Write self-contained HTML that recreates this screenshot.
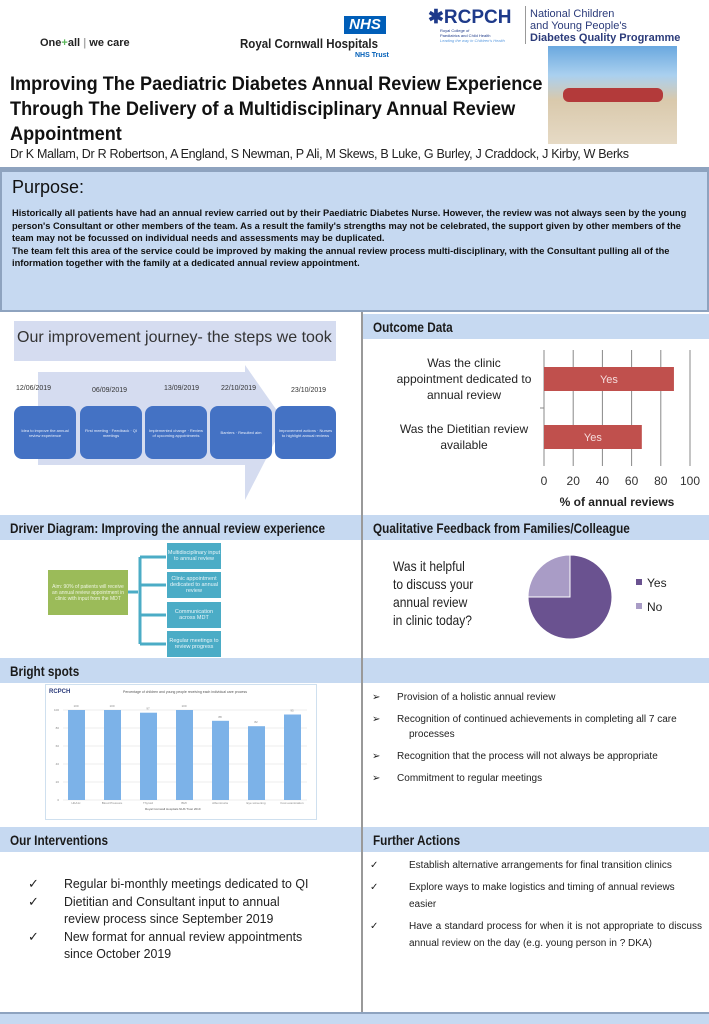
<!DOCTYPE html>
<html><head><meta charset="utf-8"><style>
*{margin:0;padding:0;box-sizing:border-box}
body{width:709px;height:1024px;position:relative;background:#fff;font-family:"Liberation Sans",sans-serif;overflow:hidden;color:#222}
.a{position:absolute}
.hdr{position:absolute;background:#c6d9f1;height:25px;font-weight:bold;font-size:14px;padding:5px 0 0 10px;color:#1a1a1a;white-space:nowrap;overflow:hidden}
.hdr span{display:inline-block;transform:scaleX(0.84);transform-origin:left}
.cn{display:inline-block;transform:scaleX(0.86);transform-origin:left;white-space:nowrap}
.bx{position:absolute;background:#4472c4;border-radius:8px;color:#e8eefa;font-size:4px;text-align:center;display:flex;align-items:center;justify-content:center;padding:3px}
.dt{position:absolute;font-size:7px;color:#333}
.db{position:absolute;background:#4bacc6;color:#e9f5f9;font-size:5.5px;text-align:center;display:flex;align-items:center;justify-content:center;width:54px;height:26px}
.li{position:relative;white-space:nowrap}
.li>i{position:absolute;left:0;top:0;font-style:normal}
</style></head><body>
<div class="a" style="left:40px;top:37px;font-size:11px;font-weight:bold">One<span style="color:#5ab65a">+</span>all <span style="color:#aaa">|</span> we care</div>
<div class="a" style="left:344px;top:16px;width:42px;height:18px;background:#005eb8;color:#fff;font-weight:bold;font-style:italic;font-size:15px;text-align:center;line-height:18px">NHS</div>
<div class="a" style="left:240px;top:37px;font-size:12.5px;font-weight:bold;color:#222"><span class="cn" style="transform:scaleX(0.92)">Royal Cornwall Hospitals</span></div>
<div class="a" style="left:355px;top:52px;font-size:7px;font-weight:bold;color:#005eb8">NHS Trust</div>
<div class="a" style="left:428px;top:6px;font-size:19px;font-weight:bold;color:#1e3a8a">✱RCPCH</div>
<div class="a" style="left:440px;top:28px;font-size:4px;color:#1e3a8a;line-height:5px">Royal College of<br>Paediatrics and Child Health<br><i style="color:#5a9be0">Leading the way in Children's Health</i></div>
<div class="a" style="left:525px;top:6px;width:1px;height:38px;background:#999"></div>
<div class="a" style="left:530px;top:8px;font-size:11px;line-height:12px;color:#2b3b7a">National Children<br>and Young People's<br><b>Diabetes Quality Programme</b></div>
<div class="a" style="left:548px;top:46px;width:129px;height:98px;background:linear-gradient(#6aa8df 0,#aad0ef 30%,#d9c9ac 55%,#e6dac5 100%)"><div style="position:absolute;left:15px;top:42px;width:100px;height:14px;background:#b33a3a;border-radius:6px"></div></div>
<div class="a" style="left:10px;top:72px;font-size:19.5px;font-weight:bold;line-height:25px;color:#111"><span class="cn" style="transform:scaleX(0.93)">Improving The Paediatric Diabetes Annual Review Experience<br>Through The Delivery of a Multidisciplinary Annual Review<br>Appointment</span></div>
<div class="a" style="left:10px;top:147px;font-size:12.5px;letter-spacing:-0.3px;color:#222">Dr K Mallam, Dr R Robertson, A England, S Newman, P Ali, M Skews, B Luke, G Burley, J Craddock, J Kirby, W Berks</div>
<div class="a" style="left:0;top:167px;width:709px;height:3px;background:#8ea3bf"></div>
<div class="a" style="left:0;top:170px;width:709px;height:142px;background:#c6d9f1;border:2px solid #8ea3bf;padding:5px 10px">
<div style="font-size:18px;color:#111;margin-bottom:9px">Purpose:</div>
<div style="font-size:9.3px;font-weight:bold;line-height:12.5px;color:#111">Historically all patients have had an annual review carried out by their Paediatric Diabetes Nurse. However, the review was not always seen by the young person's Consultant or other members of the team. As a result the family's strengths may not be celebrated, the support given by other members of the team may not be focussed on individual needs and assessments may be duplicated.<br>The team felt this area of the service could be improved by making the annual review process multi-disciplinary, with the Consultant pulling all of the information together with the family at a dedicated annual review appointment.</div></div>
<div class="a" style="left:361px;top:312px;width:2px;height:700px;background:#999"></div>
<!-- Journey -->
<div class="a" style="left:14px;top:321px;width:322px;height:40px;background:#d5dcf0;font-size:16px;color:#333;padding:8px 0 0 3px">Our improvement journey- the steps we took</div>
<svg class="a" style="left:0;top:310px" width="360" height="200"><polygon points="38,62 245,62 245,55 285,112 245,190 245,155 38,155" fill="#d5dcf0"/></svg>
<div class="dt" style="left:16px;top:385px">12/06/2019</div><div class="dt" style="left:92px;top:387px">06/09/2019</div><div class="dt" style="left:164px;top:385px">13/09/2019</div><div class="dt" style="left:221px;top:385px">22/10/2019</div><div class="dt" style="left:291px;top:387px">23/10/2019</div>
<div class="bx" style="left:14px;top:406px;width:62px;height:53px">Idea to improve the annual review experience</div>
<div class="bx" style="left:80px;top:406px;width:62px;height:53px">First meeting · Feedback · QI meetings</div>
<div class="bx" style="left:145px;top:406px;width:62px;height:53px">Implemented change · Review of upcoming appointments</div>
<div class="bx" style="left:210px;top:406px;width:62px;height:53px">Barriers · Resulted aim</div>
<div class="bx" style="left:275px;top:406px;width:61px;height:53px">Improvement actions · Nurses to highlight annual reviews</div>
<!-- Outcome -->
<div class="hdr" style="left:363px;top:314px;width:346px"><span>Outcome Data</span></div>
<svg class="a" id="oc" style="left:363px;top:340px" width="346" height="175"></svg>
<!-- Driver -->
<div class="hdr" style="left:0;top:515px;width:361px"><span>Driver Diagram: Improving the annual review experience</span></div>
<div class="hdr" style="left:363px;top:515px;width:346px"><span>Qualitative Feedback from Families/Colleague</span></div>
<div class="a" style="left:48px;top:570px;width:80px;height:45px;background:#9bbb59;color:#eef5e0;font-size:5px;text-align:center;display:flex;align-items:center;justify-content:center;padding:3px">Aim: 90% of patients will receive an annual review appointment in clinic with input from the MDT</div>
<svg class="a" style="left:128px;top:540px" width="50" height="120"><g stroke="#4bacc6" stroke-width="3" fill="none"><line x1="0" y1="52" x2="10" y2="52"/><line x1="12" y1="17" x2="12" y2="104"/><line x1="12" y1="17" x2="38" y2="17"/><line x1="12" y1="45" x2="38" y2="45"/><line x1="12" y1="75" x2="38" y2="75"/><line x1="12" y1="104" x2="38" y2="104"/></g></svg>
<div class="db" style="left:167px;top:543px">Multidisciplinary input to annual review</div>
<div class="db" style="left:167px;top:572px">Clinic appointment dedicated to annual review</div>
<div class="db" style="left:167px;top:602px">Communication across MDT</div>
<div class="db" style="left:167px;top:631px">Regular meetings to review progress</div>
<!-- Pie -->
<div class="a" style="left:393px;top:557px;font-size:14px;line-height:18px;color:#222"><span class="cn">Was it helpful<br>to discuss your<br>annual review<br>in clinic today?</span></div>
<svg class="a" id="pie" style="left:520px;top:545px" width="189" height="105"></svg>
<!-- Bright spots -->
<div class="hdr" style="left:0;top:658px;width:361px"><span>Bright spots</span></div>
<div class="hdr" style="left:363px;top:658px;width:346px"></div>
<svg class="a" id="bs" style="left:45px;top:684px" width="272" height="136"></svg>
<div class="a" style="left:372px;top:690px;width:330px;font-size:10px;line-height:15px;color:#222">
<div style="margin-bottom:7px">➢&nbsp;&nbsp;&nbsp;&nbsp;&nbsp;&nbsp;Provision of a holistic annual review</div>
<div style="margin-bottom:7px;padding-left:37px;text-indent:-37px">➢&nbsp;&nbsp;&nbsp;&nbsp;&nbsp;&nbsp;Recognition of continued achievements in completing all 7 care processes</div>
<div style="margin-bottom:7px">➢&nbsp;&nbsp;&nbsp;&nbsp;&nbsp;&nbsp;Recognition that the process will not always be appropriate</div>
<div>➢&nbsp;&nbsp;&nbsp;&nbsp;&nbsp;&nbsp;Commitment to regular meetings</div></div>
<!-- Interventions -->
<div class="hdr" style="left:0;top:827px;width:361px"><span>Our Interventions</span></div>
<div class="hdr" style="left:363px;top:827px;width:346px"><span>Further Actions</span></div>
<div class="a" style="left:28px;top:875px;font-size:13px;line-height:17.5px;color:#222">
<div class="li" style="padding-left:36px"><i>✓</i><span class="cn" style="transform:scaleX(0.95)">Regular bi-monthly meetings dedicated to QI</span></div>
<div class="li" style="padding-left:36px"><i>✓</i><span class="cn" style="transform:scaleX(0.95)">Dietitian and Consultant input to annual<br>review process since September 2019</span></div>
<div class="li" style="padding-left:36px"><i>✓</i><span class="cn" style="transform:scaleX(0.95)">New format for annual review appointments<br>since October 2019</span></div></div>
<div class="a" style="left:370px;top:857px;width:332px;font-size:10px;line-height:17px;color:#222">
<div class="li" style="padding-left:39px;margin-bottom:5px"><i>✓</i>Establish alternative arrangements for final transition clinics</div>
<div class="li" style="padding-left:39px;margin-bottom:5px"><i>✓</i>Explore ways to make logistics and timing of annual reviews<br>easier</div>
<div class="li" style="padding-left:39px"><i>✓</i><div style="white-space:normal;text-align:justify;width:293px">Have a standard process for when it is not appropriate to discuss annual review on the day (e.g. young person in ? DKA)</div></div></div>
<div class="a" style="left:0;top:1012px;width:709px;height:12px;background:#c6d9f1;border-top:2px solid #8ea3bf"></div>
<script>
const NS="http://www.w3.org/2000/svg";
function mk(p,t,a,txt){const e=document.createElementNS(NS,t);for(const k in a)e.setAttribute(k,a[k]);if(txt!=null)e.textContent=txt;p.appendChild(e);return e;}
// Outcome chart
const ocCats=[["Was the clinic","appointment dedicated to","annual review"],["Was the Dietitian review","available"]];
const ocVals=[89,67];
const ocTicks=[0,20,40,60,80,100];
const oc=document.getElementById('oc');
const ox=v=>181+v/100*146, y0=10, y1=126;
ocTicks.forEach(t=>{const l=mk(oc,'line',{x1:ox(t),x2:ox(t),y1:y0,y2:y1,stroke:'#888','stroke-width':1});

const tx=mk(oc,'text',{x:ox(t),y:145,'font-size':12,'text-anchor':'middle',fill:'#333'},t);
});
mk(oc,'line',{x1:ox(0)-4,x2:ox(0),y1:y0+58,y2:y0+58,stroke:'#888'});
ocVals.forEach((v,i)=>{const cy=y0+29+i*58;
const r=mk(oc,'rect',{x:ox(0),y:cy-12,width:ox(v)-ox(0),height:24,fill:'#c0504d'});

mk(oc,'text',{x:(ox(0)+ox(v))/2,y:cy+4,'font-size':11,'text-anchor':'middle',fill:'#f5dcdc'},'Yes');
const L=ocCats[i];L.forEach((s,j)=>{const t=mk(oc,'text',{x:101,y:cy+4+(j-(L.length-1)/2)*16,'font-size':12,'text-anchor':'middle',fill:'#222'},s);
});});
const at=mk(oc,'text',{x:ox(50),y:166,'font-size':12,'font-weight':'bold','text-anchor':'middle',fill:'#222'},'% of annual reviews');

// Pie
const pieLabels=['Yes','No'];
const pieVals=[75,25];
const pieCols=['#6a5290','#a99cc6'];
const pie=document.getElementById('pie');
const cx=50,cy=52,R=42;let ang=0;const tot=pieVals.reduce((a,b)=>a+b,0);
pieVals.forEach((v,i)=>{const a0=ang,a1=ang+v/tot*2*Math.PI;ang=a1;
const p=(a)=>[cx+R*Math.sin(a),cy-R*Math.cos(a)];const [x0,yy0]=p(a0),[x1,yy1]=p(a1);
const s=mk(pie,'path',{d:`M${cx},${cy}L${x0},${yy0}A${R},${R} 0 ${a1-a0>Math.PI?1:0} 1 ${x1},${yy1}Z`,fill:pieCols[i],stroke:'#fff','stroke-width':1});

mk(pie,'rect',{x:116,y:34+i*24,width:6,height:6,fill:pieCols[i]});
const t=mk(pie,'text',{x:127,y:42+i*24,'font-size':12,fill:'#222'},pieLabels[i]);
});
// Bright spots
const bsCats=['HbA1c','Blood Pressure','Thyroid','BMI','Albuminuria','Eye screening','Foot examination'];
const bsVals=[100,100,97,100,88,82,95];
const bsTicks=[0,20,40,60,80,100];
const bs=document.getElementById('bs');
mk(bs,'rect',{x:0.5,y:0.5,width:271,height:135,fill:'#fff',stroke:'#cfe0ef'});
const by=v=>116-v*0.9;
mk(bs,'text',{x:4,y:9,'font-size':6,'font-weight':'bold',fill:'#2b3b7a'},'RCPCH');
mk(bs,'text',{x:140,y:9,'font-size':3.5,'text-anchor':'middle',fill:'#555'},'Percentage of children and young people receiving each individual care process');
bsTicks.forEach(t=>{mk(bs,'line',{x1:18,x2:262,y1:by(t),y2:by(t),stroke:'#eee'});mk(bs,'text',{x:14,y:by(t)+1,'font-size':3,'text-anchor':'end',fill:'#888'},t);});
bsVals.forEach((v,i)=>{const x=31+i*36;
const r=mk(bs,'rect',{x:x-8,y:by(v),width:17,height:by(0)-by(v),fill:'#7cb2e8'});

mk(bs,'text',{x:x,y:by(0)+4,'font-size':3,'text-anchor':'middle',fill:'#888'},bsCats[i]);
mk(bs,'text',{x:x,y:by(v)-3,'font-size':3,'text-anchor':'middle',fill:'#888'},v);});
mk(bs,'text',{x:100,y:126,'font-size':3,fill:'#555'},'Royal Cornwall Hospitals NHS Trust 2019');
</script>
</body></html>
